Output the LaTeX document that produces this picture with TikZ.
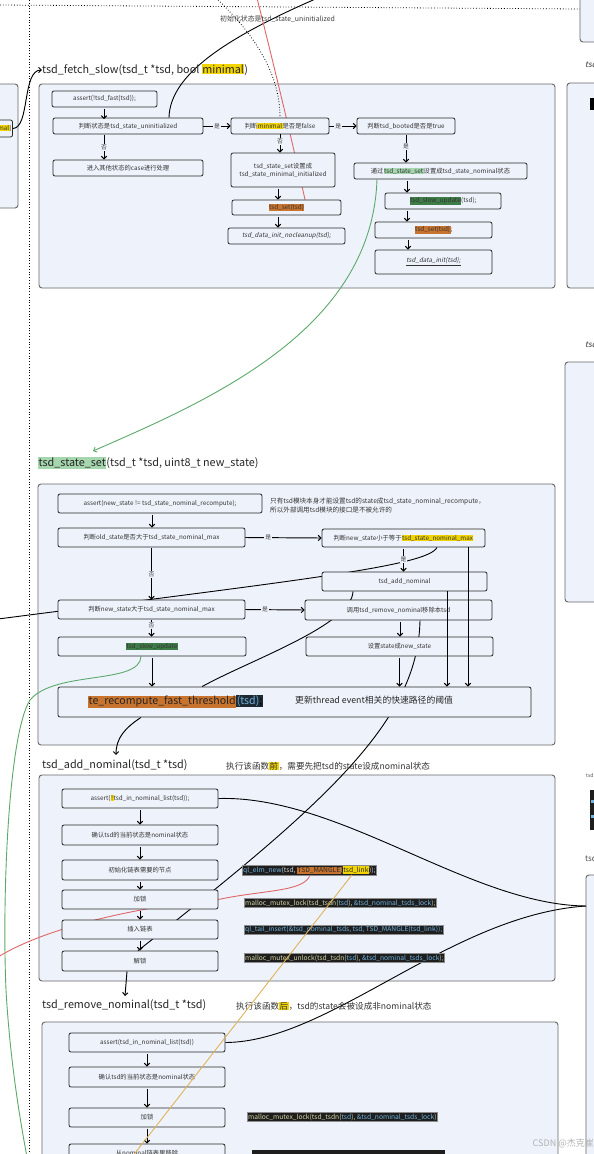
\documentclass[tikz,border=0pt]{standalone}
\usepackage{fontspec}
\setmainfont{Noto Sans CJK SC}
\newfontfamily\slfont{Noto Sans CJK SC}[FakeSlant=0.2]
\usetikzlibrary{arrows.meta,calc}
\definecolor{bgfill}{HTML}{EEF3FB}
\definecolor{hlyellow}{HTML}{F2D500}
\definecolor{hlorange}{HTML}{C8742F}
\definecolor{dkgreen}{HTML}{3E7D47}
\definecolor{hlgreen}{HTML}{A5D6AE}
\definecolor{codebg}{HTML}{1E1E1E}
\definecolor{codebgb}{HTML}{1E2A33}
\definecolor{redc}{HTML}{E06666}
\definecolor{greenc}{HTML}{5BAA6B}
\definecolor{goldc}{HTML}{E0B35A}
\definecolor{cblue}{HTML}{6FB3E0}
\definecolor{cyel}{HTML}{D8D8A8}
\definecolor{cwhite}{HTML}{D4D4D4}
\newcommand\hl[2]{{\setlength{\fboxsep}{0.5pt}\colorbox{#1}{#2}}}
\pgfdeclarelayer{back}\pgfdeclarelayer{mid}
\pgfsetlayers{back,mid,main}
\tikzset{
  big/.style={draw=black!60, line width=0.9pt, rounded corners=3pt, fill=bgfill},
  bx/.style={draw=black!85, line width=0.8pt, rounded corners=2pt, fill=bgfill, font=\fontsize{6.3}{7.8}\selectfont, inner sep=1pt, text=black!80},
  arr/.style={-{Straight Barb[length=2.8pt,width=5.4pt]}, line width=0.95pt, black},
  lab/.style={font=\fontsize{5.8}{6.5}\selectfont, fill=bgfill, inner sep=1pt, text=black!75},
  conn/.style={line width=0.9pt, black},
  codeb/.style={fill=codebg, draw=black!45, line width=0.3pt, inner sep=1pt, font=\fontsize{6.7}{7.5}\selectfont, anchor=west},
  ttl/.style={font=\fontsize{10.8}{13}\selectfont, anchor=west, text=black!85, inner sep=0pt},
  notet/.style={font=\fontsize{8.6}{10}\selectfont, anchor=west, text=black!80, inner sep=0pt},
}
\begin{document}
\begin{tikzpicture}[x=1pt,y=-1pt]
\useasboundingbox (0,0) rectangle (594,1154);

% ---------- containers ----------
\begin{pgfonlayer}{back}
\fill[white] (0,0) rectangle (594,1154);
\draw[dotted, line width=0.8pt] (29,0) -- (29,1154);
\draw[dotted, line width=0.8pt] (0,5) -- (580,9);
\draw[big] (-10,84) rectangle (18,208);
\draw[big] (39,84) rectangle (555,288);
\draw[big] (38,484) rectangle (555,745);
\draw[big] (39,775) rectangle (555,981);
\draw[big] (42,1022) rectangle (558,1175);
\draw[big] (580,-5) rectangle (600,42);
\draw[big] (567,83) rectangle (600,288);
\draw[big] (565,362) rectangle (600,602);
\draw[big] (586,875) rectangle (600,1175);
\fill[black] (590,98) rectangle (597,110);
\fill[codebg] (590,790) rectangle (598,830);
\fill[cblue] (591,800) rectangle (594,803);
\fill[cblue] (591,815) rectangle (594,818);
\end{pgfonlayer}

% ---------- left fragment ----------
\node[bx, minimum width=43pt, minimum height=17pt] (lnode) at (-9,128.5) {};
\node[anchor=east, font=\fontsize{6.3}{7}\selectfont, inner sep=0pt, text=black!80] (ltext) at (12,128.5) {\hl{hlyellow}{minimal})};

% ---------- section 1 ----------
\node[ttl] (title1) at (42,70) {tsd\_fetch\_slow(tsd\_t *tsd, bool \hl{hlyellow}{minimal})};
\node[font=\fontsize{6.9}{8}\selectfont, anchor=west, text=black!75, inner sep=0pt] (initlbl) at (220,19) {初始化状态是tsd\_state\_uninitialized};

\node[bx, minimum width=105pt, minimum height=16pt] (a1) at (104.5,99) {assert(!tsd\_fast(tsd));};
\node[bx, minimum width=150pt, minimum height=16pt] (a2) at (128,126) {判断状态是tsd\_state\_uninitialized};
\node[bx, minimum width=150pt, minimum height=16pt] (a3) at (128,168) {进入其他状态的case进行处理};
\node[bx, minimum width=98pt, minimum height=16pt] (a4) at (280,126) {判断\hl{hlyellow}{minimal}是否是false};
\node[bx, minimum width=104pt, minimum height=34pt, align=center] (a5) at (283,170) {tsd\_state\_set设置成\\tsd\_state\_minimal\_initialized};
\node[bx, minimum width=109pt, minimum height=15pt] (a6) at (286.5,207.5) {\hl{hlorange}{tsd\_set(tsd)}};
\node[bx, minimum width=117pt, minimum height=16pt] (a7) at (286.5,236) {\slfont tsd\_data\_init\_nocleanup(tsd);};
\node[bx, minimum width=98pt, minimum height=16pt] (a8) at (406,126) {判断tsd\_booted是否是true};
\node[bx, minimum width=173pt, minimum height=16pt] (a9) at (440.5,171) {通过\hl{hlgreen}{tsd\_state\_set}设置成tsd\_state\_nominal状态};
\node[bx, minimum width=116pt, minimum height=16pt] (a10) at (443,201) {\hl{dkgreen}{tsd\_slow\_update}(tsd);};
\node[bx, minimum width=117pt, minimum height=16pt] (a11) at (433.5,230) {\hl{hlorange}{tsd\_set(tsd)};};
\node[bx, minimum width=117pt, minimum height=24pt] (a12) at (433.5,262) {\slfont\underline{tsd\_data\_init(tsd);}};

\draw[arr] ([xshift=-0.5pt,yshift=-1.5pt]a1.south) -- ([xshift=-0.5pt,yshift=-1.5pt]a1.south |- a2.north);
\draw[arr] ([xshift=-24pt,yshift=-1pt]a2.south) -- ([xshift=-24pt]a2.south |- a3.north) node[lab, midway] (l1) {否};
\draw[arr] (a2.east) -- (a4.west) node[lab, midway] (l2) {是};
\draw[arr] (a4.south) -- (a4.south |- a5.north) node[lab, pos=0.4] (l3) {否};
\draw[arr] ([xshift=-5pt,yshift=-1.5pt]a5.south) -- ([xshift=-5pt]a5.south |- a6.north);
\draw[arr] ([xshift=-8.5pt,yshift=-1.5pt]a6.south) -- ([xshift=-8.5pt]a6.south |- a7.north);
\draw[arr] (a4.east) -- (a8.west) node[lab, pos=0.33] (l4) {是};
\draw[arr] ([yshift=-1pt]a8.south) -- (a8.south |- a9.north) node[lab, pos=0.4] (l5) {是};
\draw[arr] ([xshift=-33.5pt,yshift=-1.5pt]a9.south) -- ([xshift=-33.5pt]a9.south |- a10.north);
\draw[arr] ([xshift=-36pt,yshift=-1.5pt]a10.south) -- ([xshift=-36pt]a10.south |- a11.north);
\draw[arr] ([xshift=-25.5pt,yshift=-1.5pt]a11.south) -- ([xshift=-25.5pt]a11.south |- a12.north);

% ---------- section 2 ----------
\node[ttl] (title2) at (38,463) {\hl{hlgreen}{tsd\_state\_set}(tsd\_t *tsd, uint8\_t new\_state)};
\node[bx, minimum width=204pt, minimum height=19pt] (b1) at (160,503.5) {assert(new\_state != tsd\_state\_nominal\_recompute);};
\node[font=\fontsize{6.6}{8.4}\selectfont, anchor=west, align=left, text=black!80, inner sep=0pt] (note1) at (270,505.5) {只有tsd模块本身才能设置tsd的state成tsd\_state\_nominal\_recompute，\\所以外部调用tsd模块的接口是不被允许的};
\node[bx, minimum width=187pt, minimum height=19pt] (b2) at (151.5,537.5) {判断old\_state是否大于tsd\_state\_nominal\_max};
\node[bx, minimum width=163pt, minimum height=18pt] (b3) at (403.5,538) {判断new\_state小于等于\hl{hlyellow}{tsd\_state\_nominal\_max}};
\node[bx, minimum width=165pt, minimum height=19pt] (b5) at (404.5,581.5) {tsd\_add\_nominal};
\node[bx, minimum width=187pt, minimum height=19pt] (b4) at (151.5,609.5) {判断new\_state大于tsd\_state\_nominal\_max};
\node[bx, minimum width=187pt, minimum height=20pt] (b6) at (398.5,610) {调用tsd\_remove\_nominal移除本tsd};
\node[bx, minimum width=188pt, minimum height=19pt] (b7) at (152,646.5) {\hl{dkgreen}{tsd\_slow\_update}};
\node[bx, minimum width=187pt, minimum height=19pt] (b8) at (399.5,646.5) {设置state成new\_state};
\node[bx, minimum width=473pt, minimum height=30pt] (b9) at (294.5,702) {};
\node[anchor=west, inner sep=0pt, font=\fontsize{10.6}{12}\selectfont] (b9code) at (88,701.5) {\hl{hlorange}{\textcolor{black!85}{te\_recompute\_fast\_threshold}}\hl{codebgb}{\textcolor{cblue}{(tsd)};}};
\node[anchor=west, inner sep=0pt, font=\fontsize{8.8}{10}\selectfont, text=black!85] (b9note) at (295,700) {更新thread event相关的快速路径的阈值};

\draw[arr] ([xshift=-8pt,yshift=-1.5pt]b1.south) -- ([xshift=-8pt]b1.south |- b2.north);
\draw[arr] (b2.east) -- (b3.west) node[lab, pos=0.3] (l6) {是};
\draw[arr] ([yshift=-1pt]b2.south) -- (b2.south |- b4.north) node[lab, midway] (l7) {否};
\draw[arr] (b4.east) -- (b6.west) node[lab, pos=0.33] (l8) {是};
\draw[arr] ([yshift=-1.5pt]b3.south) -- (b3.south |- b5.north) node[lab, pos=0.45] (l9) {是};
\draw[arr] ([yshift=-1pt]b4.south) -- (b4.south |- b7.north) node[lab, pos=0.3] (l10) {否};
\draw[arr] ([yshift=-1.5pt]b7.south) -- (b7.south |- b9.north);
\draw[arr] ([xshift=1.5pt,yshift=-1.5pt]b6.south) -- ([xshift=1.5pt]b6.south |- b8.north);
\draw[arr] ([yshift=-1.5pt]b8.south) -- (b8.south |- b9.north);
\draw[arr] ([xshift=64.5pt]b3.south) -- ([xshift=64.5pt]b3.south |- b9.north);
\draw[arr] ([xshift=42.5pt]b5.south) -- ([xshift=42.5pt]b5.south |- b9.north);

% ---------- section 3 ----------
\node[ttl] (title3) at (42,765) {tsd\_add\_nominal(tsd\_t *tsd)};
\node[notet] (note3) at (226,766) {执行该函数\hl{hlyellow}{前}，需要先把tsd的state设成nominal状态};
\node[bx, minimum width=156pt, minimum height=19pt] (c1) at (140,798.5) {assert(\hl{hlyellow}{!}tsd\_in\_nominal\_list(tsd));};
\node[bx, minimum width=156pt, minimum height=20pt] (c2) at (140,835) {确认tsd的当前状态是nominal状态};
\node[bx, minimum width=156pt, minimum height=20pt] (c3) at (140,870) {初始化链表需要的节点};
\node[bx, minimum width=156pt, minimum height=19pt] (c4) at (140,899.5) {加锁};
\node[bx, minimum width=156pt, minimum height=19pt] (c5) at (140,929.5) {插入链表};
\node[bx, minimum width=156pt, minimum height=20pt] (c6) at (140,961) {解锁};
\foreach \u/\v in {c1/c2,c2/c3,c3/c4,c4/c5,c5/c6}{
  \draw[arr] ([yshift=-1.5pt]\u.south) -- (\u.south |- \v.north);
}
\node[codeb] (k1) at (242,870) {\textcolor{cblue}{ql\_elm\_new}\textcolor{cwhite}{(tsd, }\hl{hlorange}{\textcolor{black!85}{TSD\_MANGLE}}\textcolor{cwhite}{(}\hl{hlyellow}{\textcolor{black!85}{tsd\_link}}\textcolor{cwhite}{));}};
\node[codeb] (k2) at (244,903) {\textcolor{cyel}{malloc\_mutex\_lock(tsd\_tsdn(}\textcolor{cblue}{tsd}\textcolor{cyel}{), }\textcolor{cblue}{\&tsd\_nominal\_tsds\_lock}\textcolor{cyel}{);}};
\node[codeb] (k3) at (244,930) {\textcolor{cblue}{ql\_tail\_insert(\&tsd\_nominal\_tsds, tsd, TSD\_MANGLE(tsd\_link));}};
\node[codeb] (k4) at (244,958) {\textcolor{cyel}{malloc\_mutex\_unlock(tsd\_tsdn(}\textcolor{cblue}{tsd}\textcolor{cyel}{), }\textcolor{cblue}{\&tsd\_nominal\_tsds\_lock}\textcolor{cyel}{);}};

% ---------- section 4 ----------
\node[ttl] (title4) at (42,1005) {tsd\_remove\_nominal(tsd\_t *tsd)};
\node[notet] (note4) at (236,1006) {执行该函数\hl{hlyellow}{后}，tsd的state会被设成非nominal状态};
\node[bx, minimum width=156pt, minimum height=19pt] (d1) at (147,1042.5) {assert(tsd\_in\_nominal\_list(tsd))};
\node[bx, minimum width=156pt, minimum height=20pt] (d2) at (147,1077) {确认tsd的当前状态是nominal状态};
\node[bx, minimum width=156pt, minimum height=19pt] (d3) at (147,1117.5) {加锁};
\node[bx, minimum width=156pt, minimum height=19pt] (d4) at (147,1153.5) {从nominal链表里移除};
\foreach \u/\v in {d1/d2,d2/d3,d3/d4}{
  \draw[arr] ([yshift=-1.5pt]\u.south) -- (\u.south |- \v.north);
}
\node[codeb] (k5) at (247,1117) {\textcolor{cyel}{malloc\_mutex\_lock(tsd\_tsdn(}\textcolor{cblue}{tsd}\textcolor{cyel}{), }\textcolor{cblue}{\&tsd\_nominal\_tsds\_lock}\textcolor{cyel}{)}};
\node[fill=codebg, minimum width=193pt, minimum height=10pt, inner sep=0pt, anchor=north west] (k6) at (252,1150) {};

% ---------- right fragments ----------
\node[anchor=west, inner sep=0pt, font=\slfont\fontsize{8}{9}\selectfont, text=black!80] (r1) at (585,64) {tsd};
\node[anchor=west, inner sep=0pt, font=\slfont\fontsize{8}{9}\selectfont, text=black!80] (r2) at (585,344) {tsd};
\node[anchor=west, inner sep=0pt, font=\fontsize{5}{6}\selectfont, text=black!70] (r3) at (586,776) {tsd};
\node[anchor=west, inner sep=0pt, font=\fontsize{8}{9}\selectfont, text=black!70] (r4) at (585,858) {tsd};
\node[anchor=east, inner sep=0pt, font=\fontsize{9}{10}\selectfont, text=black!30] (wm) at (594,1143) {CSDN @杰克崔};

% ---------- coordinates ----------
\coordinate (topexit) at (320,-3);
\coordinate (dotstart) at (216,-2);
\coordinate (redstart) at (257,-2);
\coordinate (greenend) at (93,451);
\coordinate (leftC) at (-2,619);
\coordinate (t3arr) at (116,755);
\coordinate (t4arr) at (125,996);
\coordinate (greenend2) at (27,1157);
\coordinate (redend2) at (-2,957);
\coordinate (goldend) at (132,1157);
\coordinate (rjoin) at (586,906);

% ---------- connectors ----------
\begin{pgfonlayer}{mid}
\draw[arr] (lnode.east) .. controls (30,128) and (22,70) .. (title1.west);
\draw[conn] ([xshift=41pt]a2.north) .. controls (170,75) and (225,38) .. (topexit);
\draw[dotted, line width=0.8pt] (dotstart) .. controls (250,30) and (280,70) .. (a4.north);
\draw[redc, line width=0.9pt] (redstart) .. controls (275,70) and (292,140) .. ([xshift=18.5pt]a6.north);
\draw[greenc, line width=0.9pt, -{Straight Barb[length=2.8pt,width=5.4pt]}] ([xshift=-63.5pt]a9.south) .. controls (372,330) and (210,400) .. (greenend);
\draw[conn] ([xshift=33.5pt]b3.south) .. controls (428,566) and (300,580) .. (leftC);
\draw[conn] ([xshift=-51.5pt]b5.south) .. controls (352,625) and (250,660) .. ([xshift=-92.5pt]b9.north);
\draw[conn] ([xshift=21.5pt]b6.south) .. controls (418,720) and (330,800) .. ([xshift=-2pt]c6.north);
\draw[arr] ([xshift=-153.5pt]b9.south) .. controls (125,728) and (116,738) .. (t3arr);
\draw[arr] ([xshift=-13pt]c6.south) -- (t4arr);
\draw[greenc, line width=0.9pt] ([xshift=-11pt]b7.south) .. controls (140,685) and (55,670) .. (30,700) .. controls (8,735) and (2,900) .. (6,990) .. controls (10,1060) and (20,1120) .. (greenend2);
\draw[redc, line width=0.9pt] ([xshift=68pt]k1.south west) .. controls (305,892) and (262,890) .. (c4.east) .. controls (150,905) and (50,925) .. (redend2);
\draw[conn] (c1.east) .. controls (340,795) and (470,905) .. (rjoin);
\draw[conn] (d1.east) .. controls (330,1042) and (450,915) .. (rjoin);
\end{pgfonlayer}
\draw[goldc, line width=0.9pt] ([xshift=110pt]k1.south west) -- (goldend);
\end{tikzpicture}
\end{document}
